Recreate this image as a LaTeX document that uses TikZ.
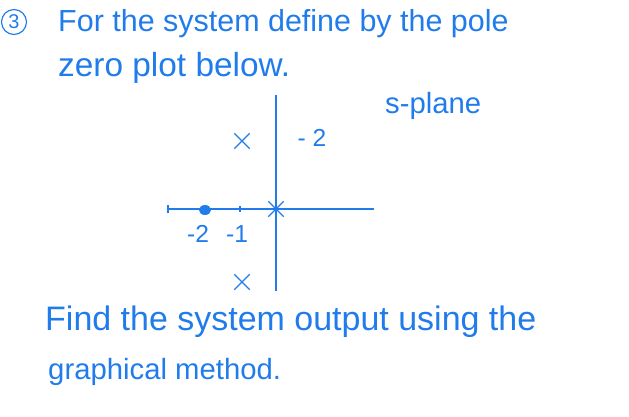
\documentclass[tikz,border=0pt]{standalone}
\usepackage{fontspec}
\setmainfont{Liberation Sans}
\usetikzlibrary{shapes.misc}
\definecolor{ink}{RGB}{32,124,235}
\tikzset{
	hand/.style={text=ink, anchor=west, inner sep=0pt, font=\fontsize{26}{30}\selectfont},
	small/.style={text=ink, inner sep=0pt, font=\fontsize{21}{24}\selectfont},
	pole/.style={cross out, draw=ink, line width=1.1pt, minimum size=12pt, inner sep=0pt},
	axis/.style={draw=ink, line width=1.1pt}
}
\begin{document}
\begin{tikzpicture}[x=0.03cm, y=-0.03cm]
	\useasboundingbox (0,0) rectangle (629,416);
	% heading
	\node at (14,22)(num)[circle, draw=ink, line width=1pt, minimum size=0.75cm, inner sep=0pt, text=ink, font=\fontsize{17}{19}\selectfont]{3};
	\node at (58,24)(line1)[hand]{For the system define by the pole};
	\node at (58,68)(line2)[hand, font=\fontsize{28.5}{32}\selectfont]{zero plot below.};
	\node at (385,106)(splane)[hand, font=\fontsize{25}{29}\selectfont]{s-plane};

	% axes
	\coordinate (o) at (276,209);
	\coordinate (top) at (276,95);
	\coordinate (bot) at (276,291);
	\coordinate (left) at (168,209);
	\coordinate (right) at (374,209);
	\path[axis] (left) -- (right)	(top) -- (bot);
	\path[axis] (168,205) -- (168,213)	(240,206) -- (240,212);

	% zero and poles
	\fill[ink] (205,210) ellipse (6 and 5);
	\node at (o)(p0)[pole]{};
	\node at (242,141)(p1)[pole]{};
	\node at (242,282)(p2)[pole]{};
	\node at (198,234)(m2)[small]{-2};
	\node at (237,234)(m1)[small]{-1};
	\node at (312,138)(im2)[small]{- 2};

	% question
	\node at (45,322)(line3)[hand, font=\fontsize{29}{33}\selectfont]{Find the system output using the};
	\node at (48,372)(line4)[hand, font=\fontsize{25}{29}\selectfont]{graphical method.};
\end{tikzpicture}
\end{document}
